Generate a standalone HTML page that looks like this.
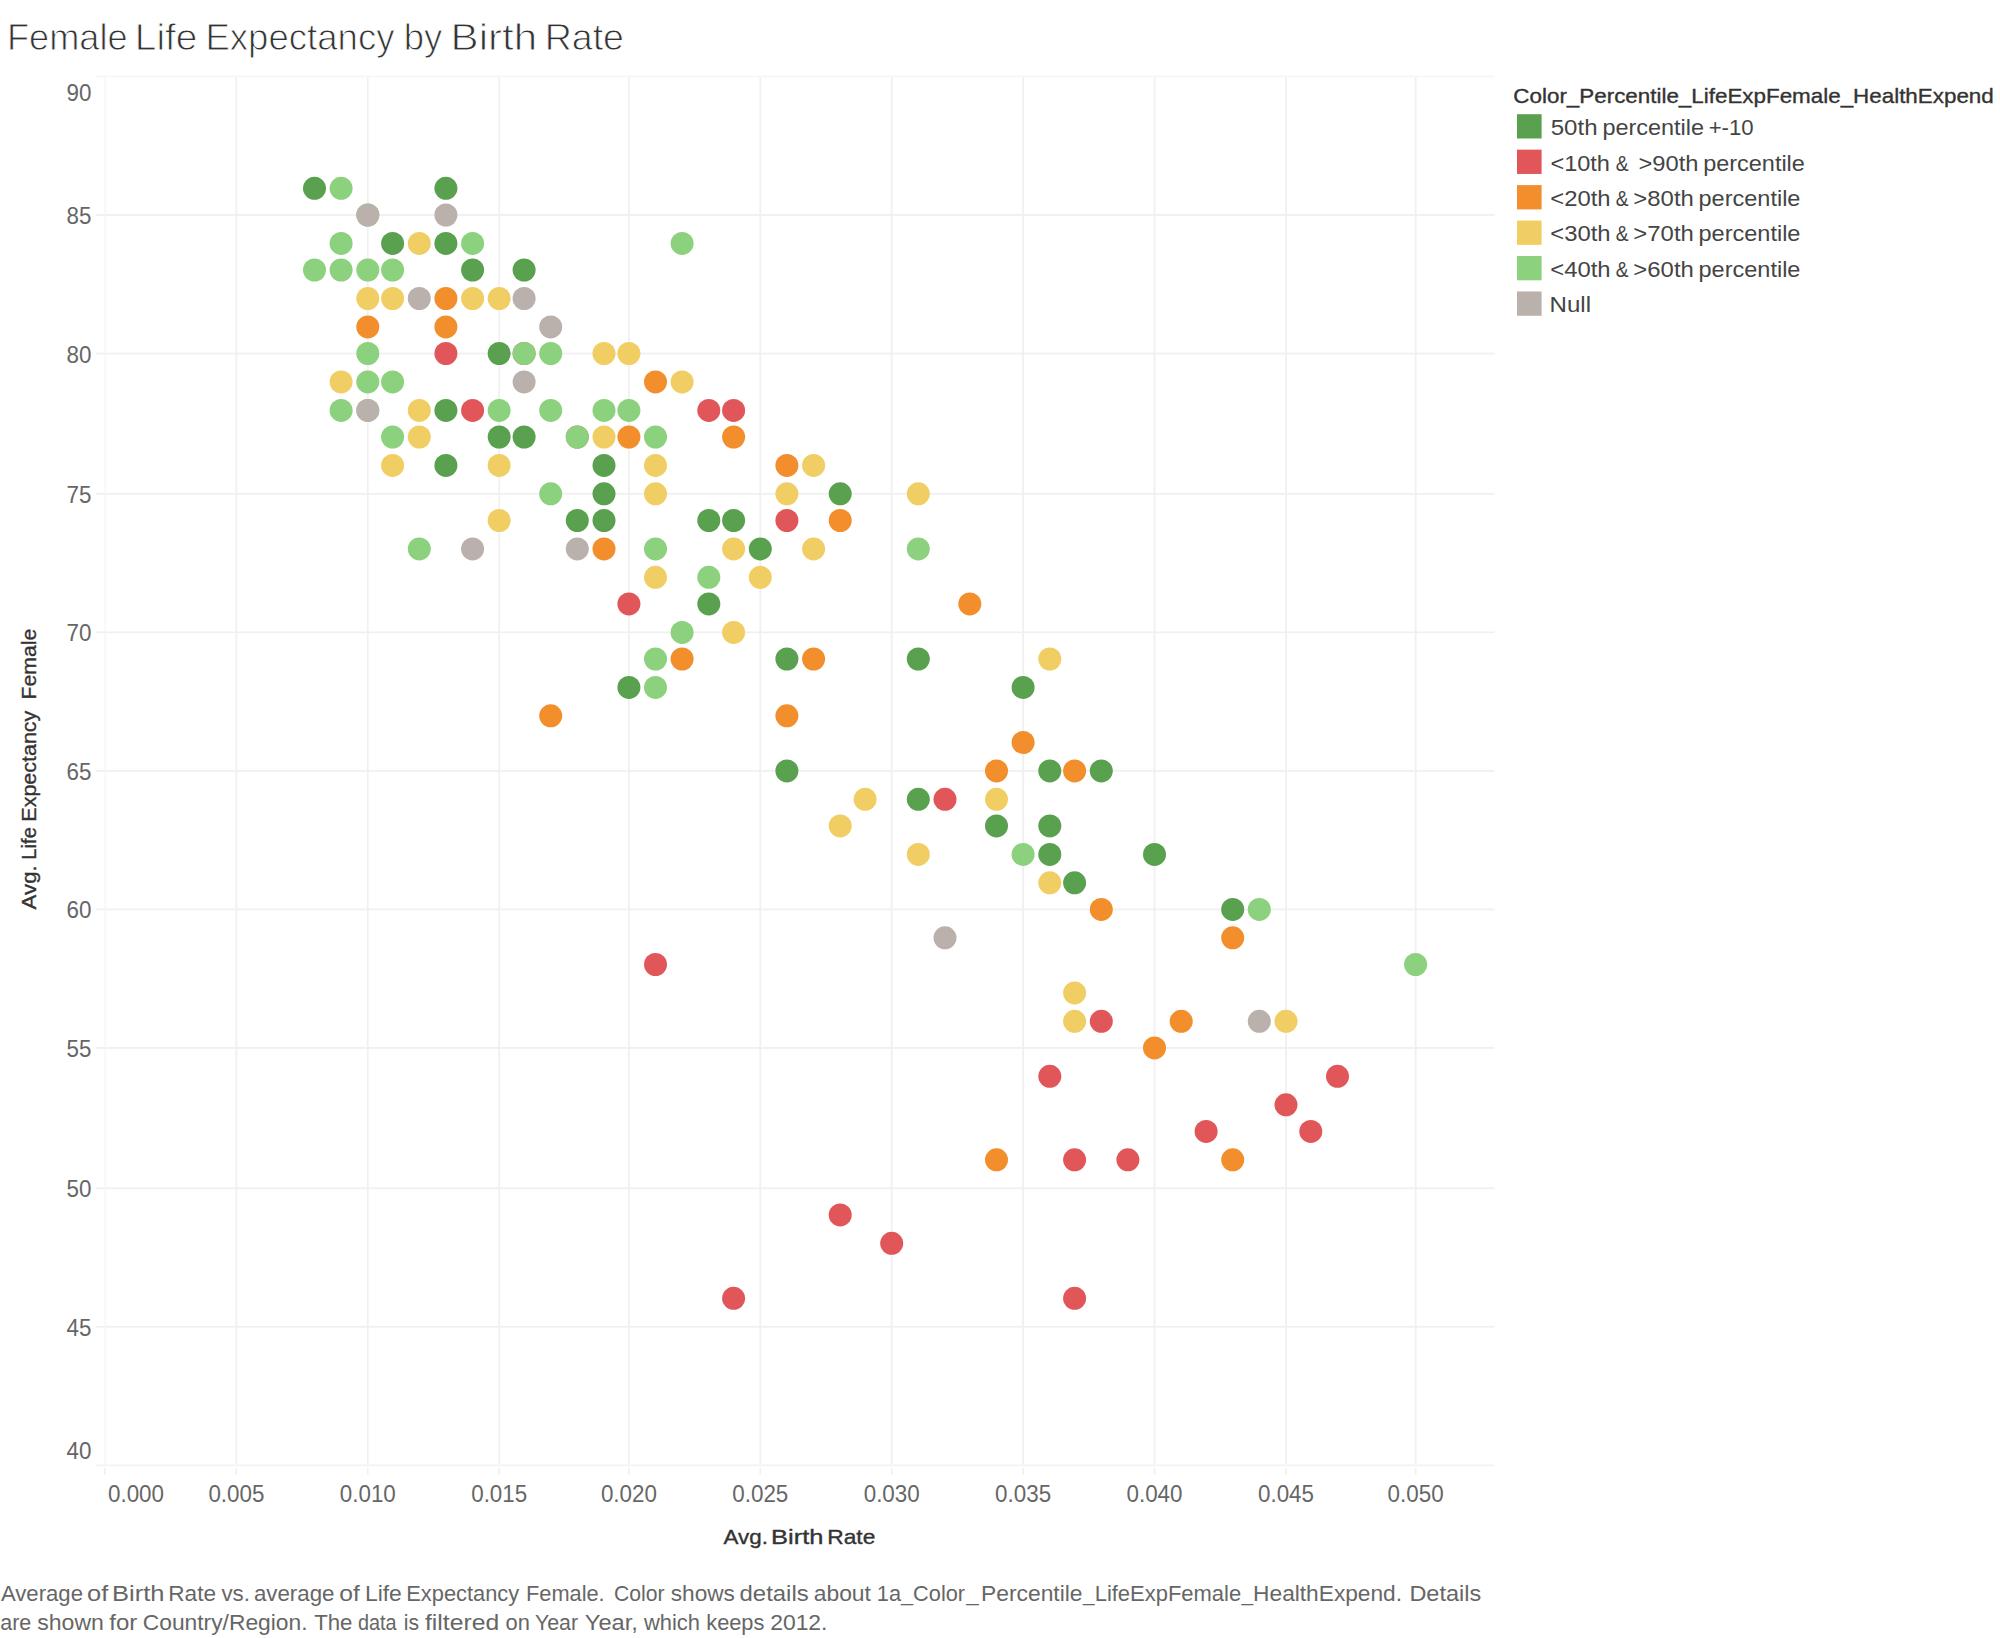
<!DOCTYPE html>
<html lang="en"><head><meta charset="utf-8"><title>Female Life Expectancy by Birth Rate</title>
<style>html,body{margin:0;padding:0;background:#fff}svg{display:block}text{font-family:"Liberation Sans",sans-serif;white-space:pre}</style>
</head><body>
<svg width="2000" height="1638" viewBox="0 0 2000 1638">
<rect width="2000" height="1638" fill="#fff"/>
<g>
<rect x="96" y="75.57" width="1398.5" height="1.776" fill="#f6f6f6"/>
<rect x="96" y="1325.88" width="1398.5" height="1.776" fill="#f0f0f0"/>
<rect x="96" y="1187.35" width="1398.5" height="1.776" fill="#f0f0f0"/>
<rect x="96" y="1047.05" width="1398.5" height="1.776" fill="#f0f0f0"/>
<rect x="96" y="908.52" width="1398.5" height="1.776" fill="#f0f0f0"/>
<rect x="96" y="769.99" width="1398.5" height="1.776" fill="#f0f0f0"/>
<rect x="96" y="631.46" width="1398.5" height="1.776" fill="#f0f0f0"/>
<rect x="96" y="492.93" width="1398.5" height="1.776" fill="#f0f0f0"/>
<rect x="96" y="352.63" width="1398.5" height="1.776" fill="#f0f0f0"/>
<rect x="96" y="214.10" width="1398.5" height="1.776" fill="#f0f0f0"/>
<rect x="235.47" y="77.35" width="1.776" height="1387.06" fill="#f0f0f0"/>
<rect x="366.89" y="77.35" width="1.776" height="1387.06" fill="#f0f0f0"/>
<rect x="498.32" y="77.35" width="1.776" height="1387.06" fill="#f0f0f0"/>
<rect x="627.96" y="77.35" width="1.776" height="1387.06" fill="#f0f0f0"/>
<rect x="759.39" y="77.35" width="1.776" height="1387.06" fill="#f0f0f0"/>
<rect x="890.81" y="77.35" width="1.776" height="1387.06" fill="#f0f0f0"/>
<rect x="1022.24" y="77.35" width="1.776" height="1387.06" fill="#f0f0f0"/>
<rect x="1153.66" y="77.35" width="1.776" height="1387.06" fill="#f0f0f0"/>
<rect x="1285.08" y="77.35" width="1.776" height="1387.06" fill="#f0f0f0"/>
<rect x="1414.73" y="77.35" width="1.776" height="1387.06" fill="#f0f0f0"/>
<rect x="104.63" y="77.35" width="1.2" height="1388.83" fill="#f5f5f5"/>
<rect x="96" y="1464.41" width="1398.5" height="1.776" fill="#f3f3f3"/>
<rect x="104.04" y="1467.8" width="1.776" height="6.8" fill="#f1f1f1"/>
<rect x="235.47" y="1467.8" width="1.776" height="6.8" fill="#f1f1f1"/>
<rect x="366.89" y="1467.8" width="1.776" height="6.8" fill="#f1f1f1"/>
<rect x="498.32" y="1467.8" width="1.776" height="6.8" fill="#f1f1f1"/>
<rect x="627.96" y="1467.8" width="1.776" height="6.8" fill="#f1f1f1"/>
<rect x="759.39" y="1467.8" width="1.776" height="6.8" fill="#f1f1f1"/>
<rect x="890.81" y="1467.8" width="1.776" height="6.8" fill="#f1f1f1"/>
<rect x="1022.24" y="1467.8" width="1.776" height="6.8" fill="#f1f1f1"/>
<rect x="1153.66" y="1467.8" width="1.776" height="6.8" fill="#f1f1f1"/>
<rect x="1285.08" y="1467.8" width="1.776" height="6.8" fill="#f1f1f1"/>
<rect x="1414.73" y="1467.8" width="1.776" height="6.8" fill="#f1f1f1"/>
</g>
<g>
<circle cx="314.5" cy="188.3" r="11.5" fill="#59a14f"/>
<circle cx="341.1" cy="188.3" r="11.5" fill="#8cd17d"/>
<circle cx="445.9" cy="188.3" r="11.5" fill="#59a14f"/>
<circle cx="367.8" cy="215.0" r="11.5" fill="#8cd17d"/>
<circle cx="367.8" cy="215.0" r="11.5" fill="#bab0ac"/>
<circle cx="445.9" cy="215.0" r="11.5" fill="#bab0ac"/>
<circle cx="341.1" cy="243.4" r="11.5" fill="#8cd17d"/>
<circle cx="392.6" cy="243.4" r="11.5" fill="#59a14f"/>
<circle cx="419.3" cy="243.4" r="11.5" fill="#f1ce63"/>
<circle cx="445.9" cy="243.4" r="11.5" fill="#59a14f"/>
<circle cx="472.6" cy="243.4" r="11.5" fill="#8cd17d"/>
<circle cx="682.1" cy="243.4" r="11.5" fill="#8cd17d"/>
<circle cx="314.5" cy="270.0" r="11.5" fill="#8cd17d"/>
<circle cx="341.1" cy="270.0" r="11.5" fill="#8cd17d"/>
<circle cx="367.8" cy="270.0" r="11.5" fill="#8cd17d"/>
<circle cx="392.6" cy="270.0" r="11.5" fill="#8cd17d"/>
<circle cx="472.6" cy="270.0" r="11.5" fill="#59a14f"/>
<circle cx="524.1" cy="270.0" r="11.5" fill="#59a14f"/>
<circle cx="367.8" cy="298.5" r="11.5" fill="#f1ce63"/>
<circle cx="392.6" cy="298.5" r="11.5" fill="#f1ce63"/>
<circle cx="419.3" cy="298.5" r="11.5" fill="#bab0ac"/>
<circle cx="445.9" cy="298.5" r="11.5" fill="#f28e2b"/>
<circle cx="472.6" cy="298.5" r="11.5" fill="#f1ce63"/>
<circle cx="499.2" cy="298.5" r="11.5" fill="#f1ce63"/>
<circle cx="524.1" cy="298.5" r="11.5" fill="#bab0ac"/>
<circle cx="367.8" cy="326.9" r="11.5" fill="#f28e2b"/>
<circle cx="445.9" cy="326.9" r="11.5" fill="#f28e2b"/>
<circle cx="550.7" cy="326.9" r="11.5" fill="#bab0ac"/>
<circle cx="367.8" cy="353.5" r="11.5" fill="#8cd17d"/>
<circle cx="445.9" cy="353.5" r="11.5" fill="#e15759"/>
<circle cx="499.2" cy="353.5" r="11.5" fill="#59a14f"/>
<circle cx="524.1" cy="353.5" r="11.5" fill="#e15759"/>
<circle cx="524.1" cy="353.5" r="11.5" fill="#8cd17d"/>
<circle cx="550.7" cy="353.5" r="11.5" fill="#8cd17d"/>
<circle cx="604.0" cy="353.5" r="11.5" fill="#f1ce63"/>
<circle cx="628.9" cy="353.5" r="11.5" fill="#f1ce63"/>
<circle cx="341.1" cy="381.9" r="11.5" fill="#f1ce63"/>
<circle cx="367.8" cy="381.9" r="11.5" fill="#8cd17d"/>
<circle cx="392.6" cy="381.9" r="11.5" fill="#8cd17d"/>
<circle cx="524.1" cy="381.9" r="11.5" fill="#bab0ac"/>
<circle cx="655.5" cy="381.9" r="11.5" fill="#f28e2b"/>
<circle cx="682.1" cy="381.9" r="11.5" fill="#f1ce63"/>
<circle cx="341.1" cy="410.4" r="11.5" fill="#8cd17d"/>
<circle cx="367.8" cy="410.4" r="11.5" fill="#8cd17d"/>
<circle cx="367.8" cy="410.4" r="11.5" fill="#bab0ac"/>
<circle cx="419.3" cy="410.4" r="11.5" fill="#f1ce63"/>
<circle cx="445.9" cy="410.4" r="11.5" fill="#59a14f"/>
<circle cx="472.6" cy="410.4" r="11.5" fill="#e15759"/>
<circle cx="499.2" cy="410.4" r="11.5" fill="#8cd17d"/>
<circle cx="550.7" cy="410.4" r="11.5" fill="#8cd17d"/>
<circle cx="604.0" cy="410.4" r="11.5" fill="#8cd17d"/>
<circle cx="628.9" cy="410.4" r="11.5" fill="#8cd17d"/>
<circle cx="708.8" cy="410.4" r="11.5" fill="#e15759"/>
<circle cx="733.6" cy="410.4" r="11.5" fill="#e15759"/>
<circle cx="392.6" cy="437.0" r="11.5" fill="#8cd17d"/>
<circle cx="419.3" cy="437.0" r="11.5" fill="#f1ce63"/>
<circle cx="499.2" cy="437.0" r="11.5" fill="#59a14f"/>
<circle cx="524.1" cy="437.0" r="11.5" fill="#59a14f"/>
<circle cx="577.3" cy="437.0" r="11.5" fill="#e15759"/>
<circle cx="577.3" cy="437.0" r="11.5" fill="#8cd17d"/>
<circle cx="604.0" cy="437.0" r="11.5" fill="#f1ce63"/>
<circle cx="628.9" cy="437.0" r="11.5" fill="#f28e2b"/>
<circle cx="655.5" cy="437.0" r="11.5" fill="#8cd17d"/>
<circle cx="733.6" cy="437.0" r="11.5" fill="#f28e2b"/>
<circle cx="392.6" cy="465.4" r="11.5" fill="#f1ce63"/>
<circle cx="445.9" cy="465.4" r="11.5" fill="#59a14f"/>
<circle cx="499.2" cy="465.4" r="11.5" fill="#f1ce63"/>
<circle cx="604.0" cy="465.4" r="11.5" fill="#59a14f"/>
<circle cx="655.5" cy="465.4" r="11.5" fill="#f1ce63"/>
<circle cx="786.9" cy="465.4" r="11.5" fill="#f28e2b"/>
<circle cx="813.6" cy="465.4" r="11.5" fill="#f1ce63"/>
<circle cx="550.7" cy="493.8" r="11.5" fill="#8cd17d"/>
<circle cx="604.0" cy="493.8" r="11.5" fill="#59a14f"/>
<circle cx="655.5" cy="493.8" r="11.5" fill="#f1ce63"/>
<circle cx="786.9" cy="493.8" r="11.5" fill="#f1ce63"/>
<circle cx="840.2" cy="493.8" r="11.5" fill="#59a14f"/>
<circle cx="918.3" cy="493.8" r="11.5" fill="#f1ce63"/>
<circle cx="499.2" cy="520.5" r="11.5" fill="#f1ce63"/>
<circle cx="577.3" cy="520.5" r="11.5" fill="#59a14f"/>
<circle cx="604.0" cy="520.5" r="11.5" fill="#59a14f"/>
<circle cx="708.8" cy="520.5" r="11.5" fill="#59a14f"/>
<circle cx="733.6" cy="520.5" r="11.5" fill="#59a14f"/>
<circle cx="786.9" cy="520.5" r="11.5" fill="#e15759"/>
<circle cx="840.2" cy="520.5" r="11.5" fill="#f28e2b"/>
<circle cx="419.3" cy="548.9" r="11.5" fill="#8cd17d"/>
<circle cx="472.6" cy="548.9" r="11.5" fill="#bab0ac"/>
<circle cx="577.3" cy="548.9" r="11.5" fill="#bab0ac"/>
<circle cx="604.0" cy="548.9" r="11.5" fill="#f28e2b"/>
<circle cx="655.5" cy="548.9" r="11.5" fill="#8cd17d"/>
<circle cx="733.6" cy="548.9" r="11.5" fill="#f1ce63"/>
<circle cx="760.3" cy="548.9" r="11.5" fill="#59a14f"/>
<circle cx="813.6" cy="548.9" r="11.5" fill="#f1ce63"/>
<circle cx="918.3" cy="548.9" r="11.5" fill="#8cd17d"/>
<circle cx="655.5" cy="577.3" r="11.5" fill="#f1ce63"/>
<circle cx="708.8" cy="577.3" r="11.5" fill="#8cd17d"/>
<circle cx="760.3" cy="577.3" r="11.5" fill="#f1ce63"/>
<circle cx="628.9" cy="603.9" r="11.5" fill="#e15759"/>
<circle cx="708.8" cy="603.9" r="11.5" fill="#59a14f"/>
<circle cx="969.8" cy="603.9" r="11.5" fill="#f28e2b"/>
<circle cx="682.1" cy="632.4" r="11.5" fill="#8cd17d"/>
<circle cx="733.6" cy="632.4" r="11.5" fill="#f1ce63"/>
<circle cx="655.5" cy="659.0" r="11.5" fill="#8cd17d"/>
<circle cx="682.1" cy="659.0" r="11.5" fill="#f28e2b"/>
<circle cx="786.9" cy="659.0" r="11.5" fill="#59a14f"/>
<circle cx="813.6" cy="659.0" r="11.5" fill="#f28e2b"/>
<circle cx="918.3" cy="659.0" r="11.5" fill="#59a14f"/>
<circle cx="1049.8" cy="659.0" r="11.5" fill="#f1ce63"/>
<circle cx="628.9" cy="687.4" r="11.5" fill="#59a14f"/>
<circle cx="655.5" cy="687.4" r="11.5" fill="#8cd17d"/>
<circle cx="1023.1" cy="687.4" r="11.5" fill="#59a14f"/>
<circle cx="550.7" cy="715.8" r="11.5" fill="#f28e2b"/>
<circle cx="786.9" cy="715.8" r="11.5" fill="#f28e2b"/>
<circle cx="1023.1" cy="742.5" r="11.5" fill="#f28e2b"/>
<circle cx="786.9" cy="770.9" r="11.5" fill="#59a14f"/>
<circle cx="996.5" cy="770.9" r="11.5" fill="#f28e2b"/>
<circle cx="1049.8" cy="770.9" r="11.5" fill="#59a14f"/>
<circle cx="1074.6" cy="770.9" r="11.5" fill="#f28e2b"/>
<circle cx="1101.3" cy="770.9" r="11.5" fill="#59a14f"/>
<circle cx="865.1" cy="799.3" r="11.5" fill="#f1ce63"/>
<circle cx="918.3" cy="799.3" r="11.5" fill="#59a14f"/>
<circle cx="945.0" cy="799.3" r="11.5" fill="#e15759"/>
<circle cx="996.5" cy="799.3" r="11.5" fill="#f1ce63"/>
<circle cx="840.2" cy="825.9" r="11.5" fill="#f1ce63"/>
<circle cx="996.5" cy="825.9" r="11.5" fill="#59a14f"/>
<circle cx="1049.8" cy="825.9" r="11.5" fill="#59a14f"/>
<circle cx="918.3" cy="854.4" r="11.5" fill="#f1ce63"/>
<circle cx="1023.1" cy="854.4" r="11.5" fill="#8cd17d"/>
<circle cx="1049.8" cy="854.4" r="11.5" fill="#59a14f"/>
<circle cx="1154.5" cy="854.4" r="11.5" fill="#59a14f"/>
<circle cx="1049.8" cy="882.8" r="11.5" fill="#f1ce63"/>
<circle cx="1074.6" cy="882.8" r="11.5" fill="#59a14f"/>
<circle cx="1101.3" cy="909.4" r="11.5" fill="#f28e2b"/>
<circle cx="1232.7" cy="909.4" r="11.5" fill="#59a14f"/>
<circle cx="1259.3" cy="909.4" r="11.5" fill="#8cd17d"/>
<circle cx="945.0" cy="937.8" r="11.5" fill="#bab0ac"/>
<circle cx="1232.7" cy="937.8" r="11.5" fill="#f28e2b"/>
<circle cx="655.5" cy="964.5" r="11.5" fill="#e15759"/>
<circle cx="1415.6" cy="964.5" r="11.5" fill="#8cd17d"/>
<circle cx="1074.6" cy="992.9" r="11.5" fill="#f1ce63"/>
<circle cx="1074.6" cy="1021.3" r="11.5" fill="#f1ce63"/>
<circle cx="1101.3" cy="1021.3" r="11.5" fill="#e15759"/>
<circle cx="1181.2" cy="1021.3" r="11.5" fill="#f28e2b"/>
<circle cx="1259.3" cy="1021.3" r="11.5" fill="#bab0ac"/>
<circle cx="1286.0" cy="1021.3" r="11.5" fill="#f1ce63"/>
<circle cx="1154.5" cy="1047.9" r="11.5" fill="#f28e2b"/>
<circle cx="1049.8" cy="1076.3" r="11.5" fill="#e15759"/>
<circle cx="1337.5" cy="1076.3" r="11.5" fill="#e15759"/>
<circle cx="1286.0" cy="1104.8" r="11.5" fill="#e15759"/>
<circle cx="1206.1" cy="1131.4" r="11.5" fill="#e15759"/>
<circle cx="1310.8" cy="1131.4" r="11.5" fill="#e15759"/>
<circle cx="996.5" cy="1159.8" r="11.5" fill="#f28e2b"/>
<circle cx="1074.6" cy="1159.8" r="11.5" fill="#e15759"/>
<circle cx="1127.9" cy="1159.8" r="11.5" fill="#e15759"/>
<circle cx="1232.7" cy="1159.8" r="11.5" fill="#f28e2b"/>
<circle cx="840.2" cy="1214.9" r="11.5" fill="#e15759"/>
<circle cx="891.7" cy="1243.3" r="11.5" fill="#e15759"/>
<circle cx="733.6" cy="1298.3" r="11.5" fill="#e15759"/>
<circle cx="1074.6" cy="1298.3" r="11.5" fill="#e15759"/>
</g>
<text y="49.5" font-size="36.5" fill="#333" stroke="#fff" stroke-width="0.9"><tspan x="6.97" textLength="120.59" lengthAdjust="spacingAndGlyphs">Female</tspan> <tspan x="134.87" textLength="62.61" lengthAdjust="spacingAndGlyphs">Life</tspan> <tspan x="205.44" textLength="189.06" lengthAdjust="spacingAndGlyphs">Expectancy</tspan> <tspan x="403.72" textLength="38.58" lengthAdjust="spacingAndGlyphs">by</tspan> <tspan x="450.62" textLength="86.45" lengthAdjust="spacingAndGlyphs">Birth</tspan> <tspan x="544.66" textLength="79.36" lengthAdjust="spacingAndGlyphs">Rate</tspan></text>
<g font-size="23" fill="#666" text-anchor="end" lengthAdjust="spacingAndGlyphs">
<text x="91.5" y="1459.0" textLength="24.9" lengthAdjust="spacingAndGlyphs">40</text>
<text x="91.5" y="1335.8" textLength="24.9" lengthAdjust="spacingAndGlyphs">45</text>
<text x="91.5" y="1197.2" textLength="24.9" lengthAdjust="spacingAndGlyphs">50</text>
<text x="91.5" y="1056.9" textLength="24.9" lengthAdjust="spacingAndGlyphs">55</text>
<text x="91.5" y="918.4" textLength="24.9" lengthAdjust="spacingAndGlyphs">60</text>
<text x="91.5" y="779.9" textLength="24.9" lengthAdjust="spacingAndGlyphs">65</text>
<text x="91.5" y="641.4" textLength="24.9" lengthAdjust="spacingAndGlyphs">70</text>
<text x="91.5" y="502.8" textLength="24.9" lengthAdjust="spacingAndGlyphs">75</text>
<text x="91.5" y="362.5" textLength="24.9" lengthAdjust="spacingAndGlyphs">80</text>
<text x="91.5" y="224.0" textLength="24.9" lengthAdjust="spacingAndGlyphs">85</text>
<text x="91.5" y="101.4" textLength="24.9" lengthAdjust="spacingAndGlyphs">90</text>
</g>
<g font-size="23" fill="#666" text-anchor="middle">
<text x="136.0" y="1502" textLength="56.0" lengthAdjust="spacingAndGlyphs">0.000</text>
<text x="236.4" y="1502" textLength="56.0" lengthAdjust="spacingAndGlyphs">0.005</text>
<text x="367.8" y="1502" textLength="56.0" lengthAdjust="spacingAndGlyphs">0.010</text>
<text x="499.2" y="1502" textLength="56.0" lengthAdjust="spacingAndGlyphs">0.015</text>
<text x="628.9" y="1502" textLength="56.0" lengthAdjust="spacingAndGlyphs">0.020</text>
<text x="760.3" y="1502" textLength="56.0" lengthAdjust="spacingAndGlyphs">0.025</text>
<text x="891.7" y="1502" textLength="56.0" lengthAdjust="spacingAndGlyphs">0.030</text>
<text x="1023.1" y="1502" textLength="56.0" lengthAdjust="spacingAndGlyphs">0.035</text>
<text x="1154.5" y="1502" textLength="56.0" lengthAdjust="spacingAndGlyphs">0.040</text>
<text x="1286.0" y="1502" textLength="56.0" lengthAdjust="spacingAndGlyphs">0.045</text>
<text x="1415.6" y="1502" textLength="56.0" lengthAdjust="spacingAndGlyphs">0.050</text>
</g>
<text y="1543.5" font-size="21" fill="#333" stroke="#333" stroke-width="0.35"><tspan x="723.60" textLength="44.42" lengthAdjust="spacingAndGlyphs">Avg.</tspan> <tspan x="771.01" textLength="52.42" lengthAdjust="spacingAndGlyphs">Birth</tspan> <tspan x="827.22" textLength="48.10" lengthAdjust="spacingAndGlyphs">Rate</tspan></text>
<text transform="translate(35.7,769.15) rotate(-90)" y="0" font-size="21" fill="#333" stroke="#333" stroke-width="0.35"><tspan x="-140.25" textLength="44.11" lengthAdjust="spacingAndGlyphs">Avg.</tspan> <tspan x="-90.53" textLength="32.60" lengthAdjust="spacingAndGlyphs">Life</tspan> <tspan x="-52.53" textLength="110.98" lengthAdjust="spacingAndGlyphs">Expectancy</tspan> <tspan x="69.69" textLength="70.82" lengthAdjust="spacingAndGlyphs">Female</tspan></text>
<text y="103" font-size="21" fill="#333" stroke="#333" stroke-width="0.35"><tspan x="1513.35" textLength="480.41" lengthAdjust="spacingAndGlyphs">Color_Percentile_LifeExpFemale_HealthExpend</tspan></text>
<rect x="1517" y="114.20" width="24.6" height="24.3" fill="#59a14f"/>
<text y="135.0" font-size="22.7" fill="#444"><tspan x="1550.75" textLength="46.80" lengthAdjust="spacingAndGlyphs">50th</tspan> <tspan x="1602.44" textLength="101.61" lengthAdjust="spacingAndGlyphs">percentile</tspan> <tspan x="1708.66" textLength="44.99" lengthAdjust="spacingAndGlyphs">+-10</tspan></text>
<rect x="1517" y="149.65" width="24.6" height="24.3" fill="#e15759"/>
<text y="170.5" font-size="22.7" fill="#444"><tspan x="1550.40" textLength="59.52" lengthAdjust="spacingAndGlyphs">&lt;10th</tspan> <tspan x="1615.70" textLength="12.81" lengthAdjust="spacingAndGlyphs">&amp;</tspan>  <tspan x="1638.49" textLength="60.04" lengthAdjust="spacingAndGlyphs">&gt;90th</tspan> <tspan x="1703.24" textLength="101.61" lengthAdjust="spacingAndGlyphs">percentile</tspan></text>
<rect x="1517" y="185.10" width="24.6" height="24.3" fill="#f28e2b"/>
<text y="205.9" font-size="22.7" fill="#444"><tspan x="1550.28" textLength="60.31" lengthAdjust="spacingAndGlyphs">&lt;20th</tspan> <tspan x="1615.65" textLength="12.81" lengthAdjust="spacingAndGlyphs">&amp;</tspan> <tspan x="1633.38" textLength="60.46" lengthAdjust="spacingAndGlyphs">&gt;80th</tspan> <tspan x="1698.53" textLength="101.92" lengthAdjust="spacingAndGlyphs">percentile</tspan></text>
<rect x="1517" y="220.55" width="24.6" height="24.3" fill="#f1ce63"/>
<text y="241.4" font-size="22.7" fill="#444"><tspan x="1550.28" textLength="60.31" lengthAdjust="spacingAndGlyphs">&lt;30th</tspan> <tspan x="1615.65" textLength="12.81" lengthAdjust="spacingAndGlyphs">&amp;</tspan> <tspan x="1633.38" textLength="60.46" lengthAdjust="spacingAndGlyphs">&gt;70th</tspan> <tspan x="1698.53" textLength="101.92" lengthAdjust="spacingAndGlyphs">percentile</tspan></text>
<rect x="1517" y="256.00" width="24.6" height="24.3" fill="#8cd17d"/>
<text y="276.8" font-size="22.7" fill="#444"><tspan x="1550.28" textLength="60.31" lengthAdjust="spacingAndGlyphs">&lt;40th</tspan> <tspan x="1615.65" textLength="12.81" lengthAdjust="spacingAndGlyphs">&amp;</tspan> <tspan x="1633.38" textLength="60.46" lengthAdjust="spacingAndGlyphs">&gt;60th</tspan> <tspan x="1698.53" textLength="101.92" lengthAdjust="spacingAndGlyphs">percentile</tspan></text>
<rect x="1517" y="291.45" width="24.6" height="24.3" fill="#bab0ac"/>
<text y="312.2" font-size="22.7" fill="#444"><tspan x="1549.62" textLength="41.47" lengthAdjust="spacingAndGlyphs">Null</tspan></text>
<text y="1600.5" font-size="22" fill="#666"><tspan x="0.95" textLength="82.05" lengthAdjust="spacingAndGlyphs">Average</tspan> <tspan x="87.01" textLength="21.21" lengthAdjust="spacingAndGlyphs">of</tspan> <tspan x="112.01" textLength="52.42" lengthAdjust="spacingAndGlyphs">Birth</tspan> <tspan x="168.23" textLength="47.78" lengthAdjust="spacingAndGlyphs">Rate</tspan> <tspan x="221.40" textLength="28.62" lengthAdjust="spacingAndGlyphs">vs.</tspan> <tspan x="253.90" textLength="80.60" lengthAdjust="spacingAndGlyphs">average</tspan> <tspan x="339.33" textLength="20.59" lengthAdjust="spacingAndGlyphs">of</tspan> <tspan x="364.91" textLength="36.92" lengthAdjust="spacingAndGlyphs">Life</tspan> <tspan x="406.30" textLength="112.80" lengthAdjust="spacingAndGlyphs">Expectancy</tspan> <tspan x="526.00" textLength="78.67" lengthAdjust="spacingAndGlyphs">Female.</tspan>  <tspan x="614.01" textLength="50.60" lengthAdjust="spacingAndGlyphs">Color</tspan> <tspan x="670.75" textLength="64.16" lengthAdjust="spacingAndGlyphs">shows</tspan> <tspan x="739.55" textLength="69.09" lengthAdjust="spacingAndGlyphs">details</tspan> <tspan x="813.69" textLength="57.24" lengthAdjust="spacingAndGlyphs">about</tspan> <tspan x="876.84" textLength="88.27" lengthAdjust="spacingAndGlyphs">1a_Color</tspan><tspan x="966.35" textLength="12.46" lengthAdjust="spacingAndGlyphs">_</tspan><tspan x="981.02" textLength="101.51" lengthAdjust="spacingAndGlyphs">Percentile</tspan><tspan x="1082.92" textLength="11.52" lengthAdjust="spacingAndGlyphs">_</tspan><tspan x="1094.68" textLength="146.51" lengthAdjust="spacingAndGlyphs">LifeExpFemale</tspan><tspan x="1241.53" textLength="11.61" lengthAdjust="spacingAndGlyphs">_</tspan><tspan x="1253.13" textLength="148.92" lengthAdjust="spacingAndGlyphs">HealthExpend.</tspan>  <tspan x="1409.41" textLength="71.82" lengthAdjust="spacingAndGlyphs">Details</tspan></text>
<text y="1630.2" font-size="22" fill="#666"><tspan x="0.28" textLength="30.99" lengthAdjust="spacingAndGlyphs">are</tspan> <tspan x="37.24" textLength="66.66" lengthAdjust="spacingAndGlyphs">shown</tspan> <tspan x="109.30" textLength="28.02" lengthAdjust="spacingAndGlyphs">for</tspan> <tspan x="142.73" textLength="164.83" lengthAdjust="spacingAndGlyphs">Country/Region.</tspan> <tspan x="314.15" textLength="38.25" lengthAdjust="spacingAndGlyphs">The</tspan> <tspan x="357.88" textLength="38.59" lengthAdjust="spacingAndGlyphs">data</tspan> <tspan x="403.78" textLength="15.28" lengthAdjust="spacingAndGlyphs">is</tspan> <tspan x="425.00" textLength="74.19" lengthAdjust="spacingAndGlyphs">filtered</tspan> <tspan x="505.52" textLength="24.31" lengthAdjust="spacingAndGlyphs">on</tspan> <tspan x="534.97" textLength="43.14" lengthAdjust="spacingAndGlyphs">Year</tspan> <tspan x="584.83" textLength="52.93" lengthAdjust="spacingAndGlyphs">Year,</tspan> <tspan x="643.94" textLength="55.99" lengthAdjust="spacingAndGlyphs">which</tspan> <tspan x="706.24" textLength="58.14" lengthAdjust="spacingAndGlyphs">keeps</tspan> <tspan x="770.18" textLength="57.29" lengthAdjust="spacingAndGlyphs">2012.</tspan></text>
</svg>
</body></html>
